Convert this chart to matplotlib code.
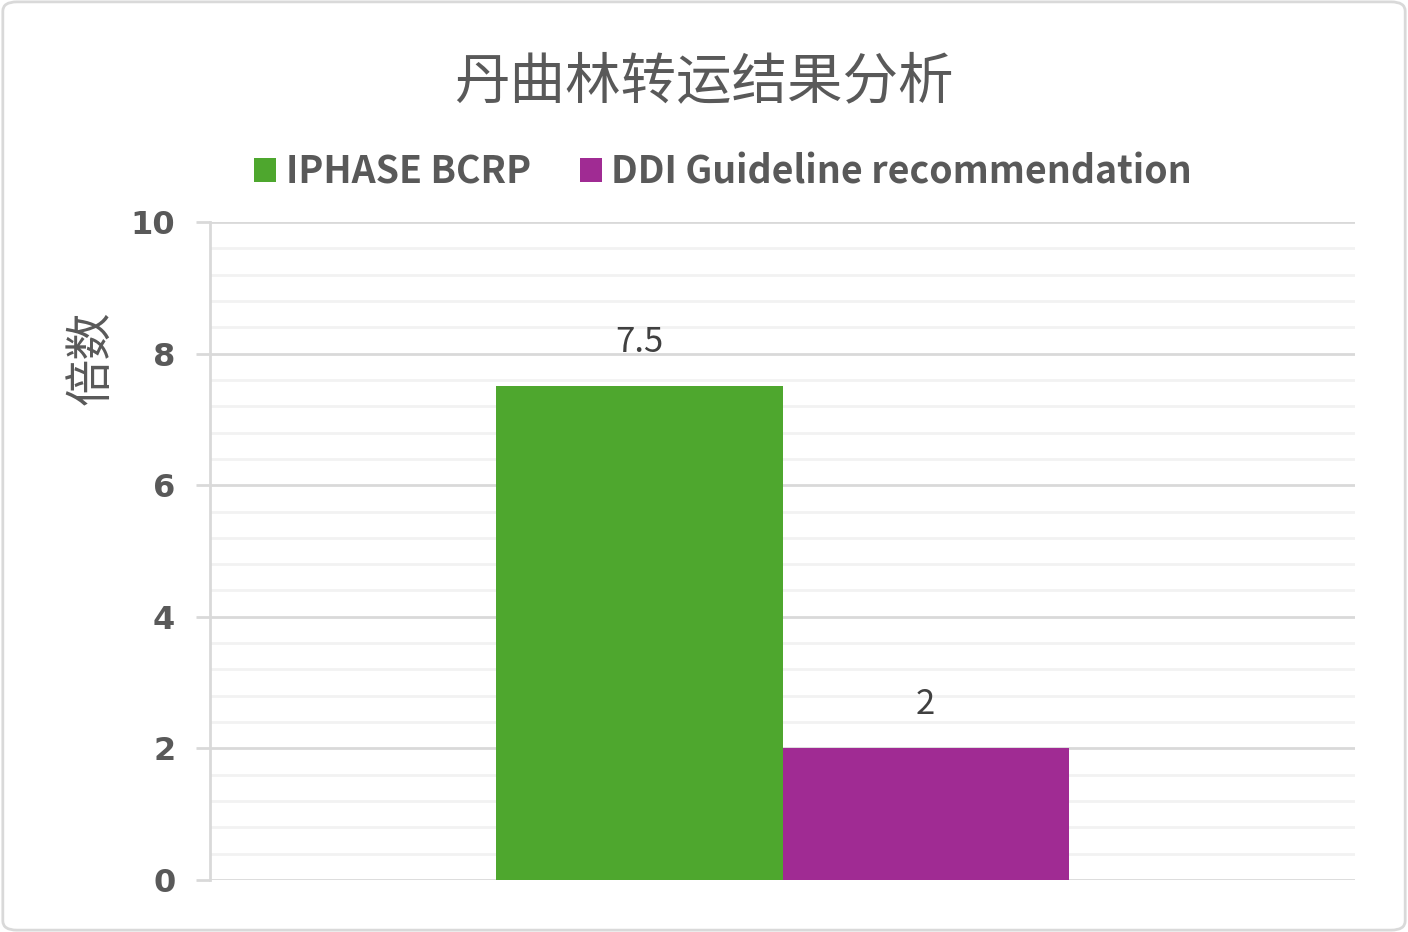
import matplotlib
matplotlib.use("Agg")
import matplotlib.pyplot as plt
from matplotlib.patches import FancyBboxPatch
import numpy as np

plt.rcParams['font.family'] = ['Noto Sans CJK SC', 'DejaVu Sans']

title = "丹曲林转运结果分析"
ylabel = "倍数"
series_names = ["IPHASE BCRP", "DDI Guideline recommendation"]
series_values = [7.5, 2]
value_labels = ["7.5", "2"]
colors = ["#4EA72E", "#A02B93"]
yticks = [0, 2, 4, 6, 8, 10]

fig = plt.figure(figsize=(14.08, 9.32), dpi=100)
ax = fig.add_axes([210/1408, 1-880/932, (1355-210)/1408, (880-222)/932])

width = 0.25
offsets = [-width/2, width/2]
for name, val, lab, col, off in zip(series_names, series_values, value_labels, colors, offsets):
    ax.bar(0 + off, val, width=width, color=col, label=name, zorder=3)
    ax.text(0 + off, val + 0.40, lab, ha='center', va='bottom', fontsize=25,
            color='#404040')

ax.set_xlim(-0.5, 0.5)
ax.set_ylim(0, 10)
ax.set_yticks(yticks)
ax.set_yticklabels([str(t) for t in yticks], fontsize=23, fontweight='bold', color='#595959',
                   family=['DejaVu Sans'])
ax.set_yticks(np.arange(0, 10.01, 0.4), minor=True)
ax.tick_params(axis='y', which='major', length=10, width=2, color='#D9D9D9', pad=15)
ax.tick_params(axis='y', which='minor', length=0)
ax.set_xticks([])
ax.grid(axis='y', which='major', color='#D9D9D9', linewidth=2, zorder=0)
ax.grid(axis='y', which='minor', color='#F2F2F2', linewidth=2, zorder=0)
for s in ['top', 'right', 'bottom']:
    ax.spines[s].set_visible(False)
ax.spines['left'].set_color('#D9D9D9')
ax.spines['left'].set_linewidth(2)
ax.set_ylabel(ylabel, fontsize=34, color='#595959')
ax.yaxis.set_label_coords(-0.082, 0.793)

fig.text(0.5, 1-82/932, title, ha='center', va='center', fontsize=40, color='#595959')

leg = fig.legend(loc='center', bbox_to_anchor=(723/1408, 1-172/932), ncol=2, frameon=False,
                 prop={'size': 27, 'weight': 'bold'}, handlelength=0.6, handleheight=0.6,
                 handletextpad=0.25, columnspacing=1.3)
for t in leg.get_texts():
    t.set_color('#595959')

border = FancyBboxPatch((0.002, 0.002), 0.996, 0.996, boxstyle="round,pad=0,rounding_size=0.01",
                        transform=fig.transFigure, fill=False, edgecolor='#D9D9D9', linewidth=2)
fig.patches.append(border)

fig.savefig("out.png", dpi=100, facecolor='white')
